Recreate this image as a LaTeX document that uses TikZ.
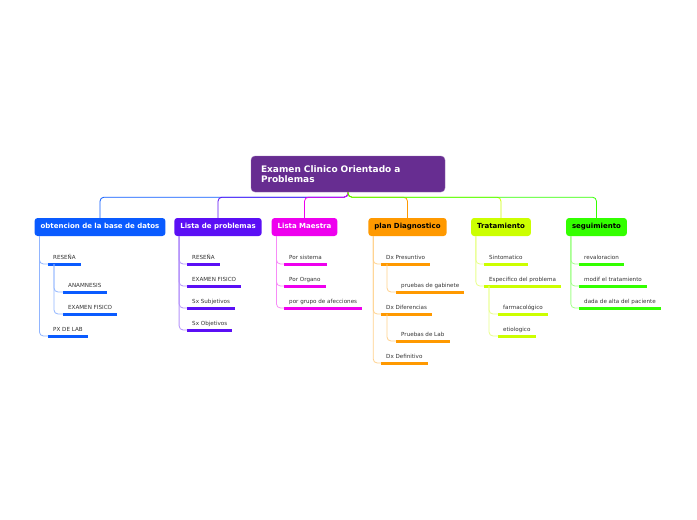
\documentclass[tikz,border=0pt]{standalone}
\usepackage{fontspec}
\setmainfont{DejaVu Sans}
\usepackage{tikz}
\usetikzlibrary{positioning}

\definecolor{rootpurple}{HTML}{672D91}
\definecolor{cblue}{HTML}{0A5BFF}
\definecolor{cviolet}{HTML}{5B0FF5}
\definecolor{cmagenta}{HTML}{EE00EE}
\definecolor{corange}{HTML}{FF9900}
\definecolor{clime}{HTML}{CCFF00}
\definecolor{cgreen}{HTML}{33FF00}
\definecolor{subgray}{HTML}{333333}

\tikzset{
  rootbox/.style={fill=rootpurple, draw=rootpurple!70!white, rounded corners=4pt,
    text=white, font=\bfseries\fontsize{9}{10.5}\selectfont, align=left,
    text width=174pt, inner xsep=10pt, minimum height=36pt},
  topic/.style={fill=#1, rounded corners=3pt, font=\bfseries\fontsize{7}{8}\selectfont,
    inner xsep=6pt, minimum height=18pt, text height=5.2pt, text depth=1.5pt},
  subtext/.style={anchor=south west, text=subgray, font=\fontsize{5.6}{6.5}\selectfont,
    inner xsep=5pt, inner ysep=3pt, text height=4.2pt, text depth=1pt},
  link/.style={#1, line width=0.8pt, rounded corners=4pt},
  branch/.style={#1!45!white, line width=0.8pt, rounded corners=4pt},
}

\newcommand{\subtopic}[5]{%
  \node[subtext] (#1) at (#2,#3) {#5};
  \draw[#4, line width=3pt] (#1.south west) -- (#1.south east);}

\begin{document}
\begin{tikzpicture}[x=1pt, y=-1pt]
    \useasboundingbox (0,0) rectangle (697,520);

    % central topic
    \node [rootbox] (root) at (348,174) {Examen Clinico Orientado a\\Problemas};

    % main topics
    \node [topic=cblue, text=white] (base) at (100,227) {obtencion de la base de datos};
    \node [topic=cviolet, text=white] (lista) at (218,227) {Lista de problemas};
    \node [topic=cmagenta, text=white] (maestra) at (304.5,227) {Lista Maestra};
    \node [topic=corange, text=black] (plan) at (407.5,227) {plan Diagnostico};
    \node [topic=clime, text=black] (trat) at (501,227) {Tratamiento};
    \node [topic=cgreen, text=black] (seg) at (596.5,227) {seguimiento};

    \draw[link=cblue] (root.south) -- ++(0,5) -| (base.north);
    \draw[link=cviolet] (root.south) -- ++(0,5) -| (lista.north);
    \draw[link=cmagenta] (root.south) -- ++(0,5) -| (maestra.north);
    \draw[link=corange] (root.south) -- ++(0,5) -| (plan.north);
    \draw[link=clime] (root.south) -- ++(0,5) -| (trat.north);
    \draw[link=cgreen] (root.south) -- ++(0,5) -| (seg.north);

    % obtencion de la base de datos
    \subtopic{resena}{48}{264}{cblue}{RESEÑA}
    \subtopic{anamnesis}{63}{292}{cblue}{ANAMNESIS}
    \subtopic{exfisico}{63}{314}{cblue}{EXAMEN FISICO}
    \subtopic{pxlab}{48}{336}{cblue}{PX DE LAB}
    \draw[branch=cblue] ([xshift=5pt]base.south west) |- (resena.south west);
    \draw[branch=cblue] ([xshift=5pt]base.south west) |- (pxlab.south west);
    \draw[branch=cblue] ([xshift=6pt]resena.south west) |- (anamnesis.south west);
    \draw[branch=cblue] ([xshift=6pt]resena.south west) |- (exfisico.south west);

    % Lista de problemas
    \subtopic{resenb}{187}{264}{cviolet}{RESEÑA}
    \subtopic{exfisicob}{187}{286}{cviolet}{EXAMEN FISICO}
    \subtopic{sxsub}{187}{308}{cviolet}{Sx Subjetivos}
    \subtopic{sxobj}{187}{330}{cviolet}{Sx Objetivos}
    \foreach \n in {resenb,exfisicob,sxsub,sxobj}
        \draw[branch=cviolet] ([xshift=5pt]lista.south west) |- (\n.south west);

    % Lista Maestra
    \subtopic{porsis}{284}{264}{cmagenta}{Por sistema}
    \subtopic{pororg}{284}{286}{cmagenta}{Por Organo}
    \subtopic{porgrupo}{284}{308}{cmagenta}{por grupo de afecciones}
    \foreach \n in {porsis,pororg,porgrupo}
        \draw[branch=cmagenta] ([xshift=5pt]maestra.south west) |- (\n.south west);

    % plan Diagnostico
    \subtopic{dxpres}{381}{264}{corange}{Dx Presuntivo}
    \subtopic{gabinete}{396}{292}{corange}{pruebas de gabinete}
    \subtopic{dxdif}{381}{314}{corange}{Dx Diferencias}
    \subtopic{pruebaslab}{396}{341}{corange}{Pruebas de Lab}
    \subtopic{dxdef}{381}{363}{corange}{Dx Definitivo}
    \foreach \n in {dxpres,dxdif,dxdef}
        \draw[branch=corange] ([xshift=5pt]plan.south west) |- (\n.south west);
    \draw[branch=corange] ([xshift=6pt]dxpres.south west) |- (gabinete.south west);
    \draw[branch=corange] ([xshift=6pt]dxdif.south west) |- (pruebaslab.south west);

    % Tratamiento
    \subtopic{sintom}{484}{264}{clime}{Sintomatico}
    \subtopic{especif}{484}{286}{clime}{Especifico del problema}
    \subtopic{farmaco}{498}{314}{clime}{farmacológico}
    \subtopic{etiol}{498}{336}{clime}{etiologico}
    \foreach \n in {sintom,especif}
        \draw[branch=clime] ([xshift=5pt]trat.south west) |- (\n.south west);
    \foreach \n in {farmaco,etiol}
        \draw[branch=clime] ([xshift=5pt]especif.south west) |- (\n.south west);

    % seguimiento
    \subtopic{reval}{579}{264}{cgreen}{revaloracion}
    \subtopic{modif}{579}{286}{cgreen}{modif el tratamiento}
    \subtopic{alta}{579}{308}{cgreen}{dada de alta del paciente}
    \foreach \n in {reval,modif,alta}
        \draw[branch=cgreen] ([xshift=5pt]seg.south west) |- (\n.south west);
\end{tikzpicture}
\end{document}
